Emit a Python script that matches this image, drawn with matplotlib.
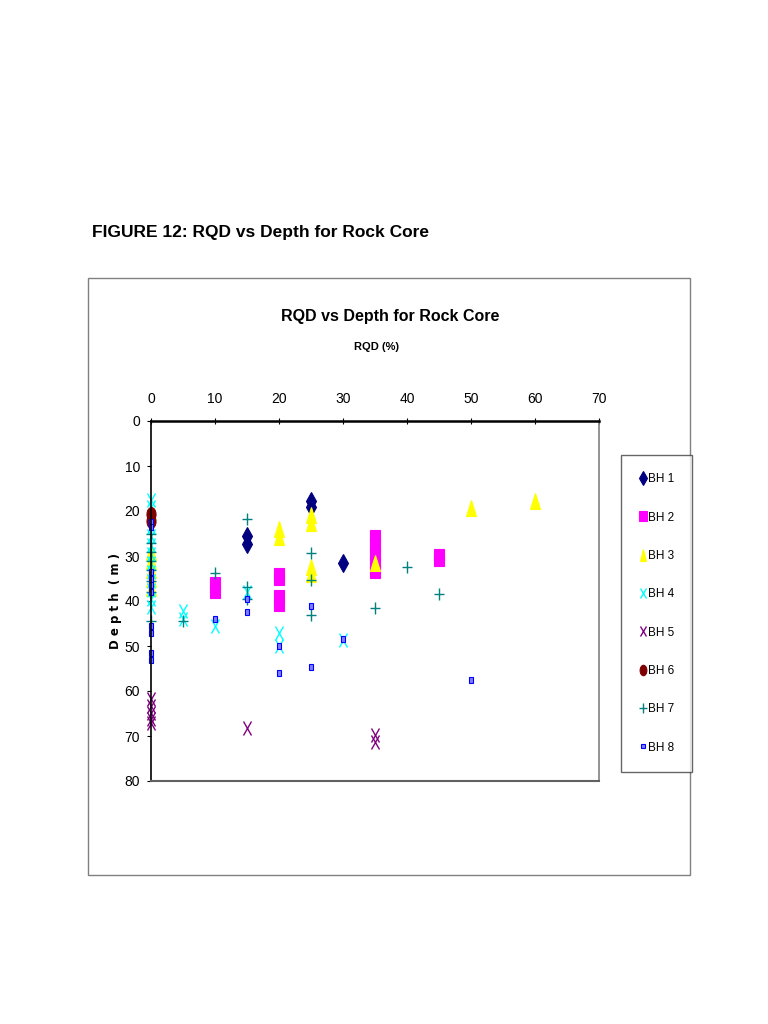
import matplotlib
matplotlib.use("Agg")
import matplotlib.pyplot as plt
from matplotlib import font_manager
from matplotlib.markers import MarkerStyle
from matplotlib.patches import Rectangle
from matplotlib.transforms import Affine2D

# RQD (%) and depth (m) per borehole
bh1_rqd = [15, 15, 25, 25, 30]
bh1_depth = [25.5, 27.3, 17.8, 19.2, 31.5]

bh2_rqd = [10, 10, 20, 20, 20, 20, 35, 35, 35, 35, 35, 45, 45]
bh2_depth = [36.0, 38.0, 34.0, 35.0, 38.8, 40.8, 25.5, 27.5, 29.5, 31.5, 33.5, 29.8, 30.8]

bh3_rqd = [0, 0, 0, 0, 0, 20, 20, 25, 25, 25, 25, 35, 50, 60]
bh3_depth = [29.0, 31.0, 33.0, 35.0, 37.0, 24.0, 25.8, 20.8, 22.6, 32.5, 34.0, 31.5, 19.4, 17.8]

bh4_rqd = [0, 0, 0, 0, 0, 0, 0, 0, 0, 0, 0, 0, 5, 5, 10, 15, 20, 20, 30]
bh4_depth = [17.5, 19.0, 23.5, 25.5, 27.5, 29.5, 31.5, 33.5, 35.5, 37.5, 39.5, 41.3,
             42.3, 44.0, 45.5, 38.0, 47.0, 50.0, 48.7]

bh5_rqd = [0, 0, 0, 0, 0, 15, 35, 35]
bh5_depth = [61.8, 63.3, 64.8, 66.3, 67.0, 68.3, 69.8, 71.3]

bh6_rqd = [0, 0]
bh6_depth = [20.6, 22.2]

bh7_rqd = [0, 0, 0, 0, 0, 0, 0, 0, 5, 10, 15, 15, 15, 25, 25, 25, 35, 40, 45]
bh7_depth = [25.0, 27.0, 29.0, 31.0, 33.0, 35.5, 38.0, 44.5, 44.5, 33.8, 21.8, 36.8,
             39.6, 29.3, 35.3, 43.0, 41.5, 32.4, 38.5]

bh8_rqd = [0, 0, 0, 0, 0, 0, 0, 0, 0, 0, 10, 15, 15, 20, 20, 25, 25, 30, 50]
bh8_depth = [22.4, 33.5, 35.0, 36.5, 38.0, 45.5, 47.0, 51.5, 53.0, 23.5, 44.0, 39.5,
             42.5, 50.0, 56.0, 41.0, 54.6, 48.5, 57.5]

x_ticks = [0, 10, 20, 30, 40, 50, 60, 70]
y_ticks = [0, 10, 20, 30, 40, 50, 60, 70, 80]

installed = {f.name for f in font_manager.fontManager.ttflist}
narrow = "Liberation Sans Narrow" if "Liberation Sans Narrow" in installed else "Liberation Sans"
plt.rcParams["font.family"] = [narrow, "DejaVu Sans"]


def squeezed(shape, sx=0.6):
    return MarkerStyle(shape, transform=Affine2D().scale(sx, 1.0))


series = [
    ("BH 1", bh1_rqd, bh1_depth, dict(marker=squeezed("D", 0.55), color="#000080", ms=9)),
    ("BH 2", bh2_rqd, bh2_depth, dict(marker=squeezed("s", 0.75), color="#FF00FF", ms=9)),
    ("BH 3", bh3_rqd, bh3_depth, dict(marker=squeezed("^", 0.55), color="#FFFF00", ms=12)),
    ("BH 4", bh4_rqd, bh4_depth, dict(marker=squeezed("x", 0.55), color="#00FFFF", ms=10,
                                      mew=1.0)),
    ("BH 5", bh5_rqd, bh5_depth, dict(marker=squeezed("x", 0.55), color="#800080", ms=10,
                                      mew=1.0)),
    ("BH 6", bh6_rqd, bh6_depth, dict(marker=squeezed("o", 0.65), color="#800000", ms=10)),
    ("BH 7", bh7_rqd, bh7_depth, dict(marker=squeezed("+", 0.75), color="#008080", ms=9,
                                      mew=1.0)),
    ("BH 8", bh8_rqd, bh8_depth, dict(marker=squeezed("s", 0.8), color="#0000FF", ms=4,
                                      mfc="#8080FF", mew=0.8)),
]

fig = plt.figure(figsize=(7.68, 10.24), dpi=100)

fig.text(92 / 768, 1 - 233 / 1024, "FIGURE 12: RQD vs Depth for Rock Core",
         fontsize=12.5, fontweight="bold", ha="left", va="center")

# chart frame
fig.patches.append(Rectangle((88 / 768, 1 - 875 / 1024), 602 / 768, 597 / 1024,
                             transform=fig.transFigure, fill=False,
                             edgecolor="#808080", linewidth=1.0))

fig.text(390 / 768, 1 - 316 / 1024, "RQD vs Depth for Rock Core",
         fontsize=11.5, fontweight="bold", ha="center", va="center")
fig.text(376 / 768, 1 - 347 / 1024, "RQD (%)",
         fontsize=8, fontweight="bold", ha="center", va="center")

ax = fig.add_axes([151 / 768, 1 - 781 / 1024, 448 / 768, 360 / 1024])

for name, xs, ys, style in series:
    st = dict(style)
    mfc = st.pop("mfc", st["color"])
    ax.plot(xs, ys, linestyle="none", marker=st["marker"], ms=st["ms"],
            mfc=mfc, mec=st["color"], mew=st.get("mew", 0.8), label=name,
            clip_on=False)

ax.set_xlim(0, 70)
ax.set_ylim(80, 0)
ax.set_xticks(x_ticks)
ax.set_yticks(y_ticks)
ax.xaxis.tick_top()
ax.tick_params(axis="x", direction="inout", length=4, labelsize=10, pad=9)
ax.tick_params(axis="y", direction="out", length=3, labelsize=10, pad=5)

ax.spines["top"].set_linewidth(1.8)
ax.spines["top"].set_color("black")
ax.spines["left"].set_linewidth(1.2)
ax.spines["left"].set_color("black")
ax.spines["bottom"].set_color("#606060")
ax.spines["bottom"].set_linewidth(1.5)
ax.spines["right"].set_color("#808080")
ax.spines["right"].set_linewidth(1.2)

fig.text(115 / 768, 1 - 601 / 1024, "D e p t h  ( m )", rotation=90,
         fontsize=8.5, fontweight="bold", family="DejaVu Sans",
         ha="center", va="center")

fig.legend(loc="upper left", bbox_to_anchor=(621 / 768, 1 - 455 / 1024),
           frameon=True, fancybox=False, edgecolor="#404040", fontsize=8.5,
           labelspacing=2.23, handlelength=0.6, handletextpad=0.1,
           borderpad=1.55, borderaxespad=0, markerscale=0.75)

fig.savefig("out.png", dpi=100)
